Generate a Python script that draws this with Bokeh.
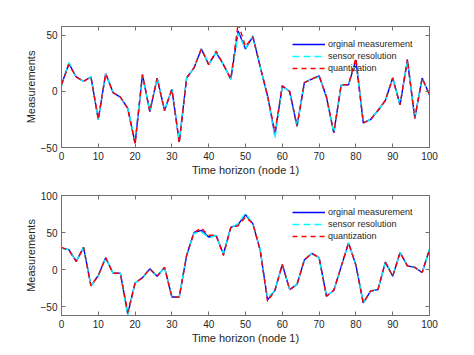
from bokeh.plotting import figure
from bokeh.models import LinearAxis, FixedTicker, CustomJSTickFormatter, Range1d
from bokeh.layouts import column
from bokeh.embed import file_html
from bokeh.resources import INLINE

t = list(range(0, 101, 2))

top_orig = [6, 25, 13, 9, 13, -25, 16, -1, -5, -15,
            -46, 15, -18, 12, -17, 2, -45, 12, 21, 38,
            24, 35, 24, 11, 54, 38, 49, 22, -4, -39,
            5, 0, -31, 8, 11, 14, -5, -37, 6, 6,
            28, -28, -25, -17, -8, 12, -12, 28, -24, 12,
            -3]
top_sensor = [5, 26, 13, 9, 13, -25, 16, -1, -5, -15,
              -44, 15, -18, 12, -17, 2, -44, 12, 21, 38,
              24, 35, 24, 11, 52, 38, 50, 22, -4, -42,
              5, 0, -32, 8, 11, 13, -5, -37, 6, 6,
              28, -28, -25, -17, -8, 12, -12, 28, -24, 12,
              -3]
top_quant = [6, 24, 13, 9, 13, -25, 16, -1, -5, -15,
             -47, 15, -18, 12, -17, 2, -46, 12, 21, 38,
             24, 36, 24, 11, 61, 40, 49, 22, -4, -36,
             5, 0, -31, 8, 11, 14, -5, -37, 6, 6,
             30, -28, -25, -17, -8, 12, -12, 29, -24, 12,
             -3]

bot_orig = [29, 27, 11, 30, -22, -8, 16, -5, -5, -60,
            -18, -11, 1, -9, 3, -37, -37, 19, 50, 53,
            44, 46, 21, 57, 61, 74, 62, 26, -41, -28,
            7, -27, -20, 13, 22, 16, -36, -28, 4, 36,
            6, -45, -29, -27, 10, -9, 23, 5, 3, -4,
            27]
bot_sensor = [29, 27, 11, 30, -22, -8, 16, -5, -5, -62,
              -18, -11, 1, -9, 3, -37, -37, 19, 49, 51,
              43, 46, 21, 56, 62, 76, 62, 26, -38, -28,
              7, -27, -20, 13, 22, 16, -36, -28, 4, 36,
              6, -45, -29, -27, 10, -9, 23, 5, 3, -4,
              27]
bot_quant = [30, 26, 11, 30, -22, -8, 16, -5, -5, -58,
             -18, -11, 1, -9, 3, -37, -37, 19, 50, 56,
             46, 47, 19, 57, 59, 71, 62, 26, -43, -28,
             7, -27, -20, 13, 22, 16, -36, -28, 4, 36,
             6, -45, -29, -27, 10, -9, 23, 5, 3, -4,
             27]

x_ticks = [0, 10, 20, 30, 40, 50, 60, 70, 80, 90, 100]
top_yticks = [-50, 0, 50]
bot_yticks = [-50, 0, 50, 100]
labels = ["orginal measurement", "sensor resolution", "quantization"]

FONT = "Liberation Sans"
AX = "#707070"
TXT = "#262626"


def style_axis(ax, ticks, show_labels=True):
    ax.ticker = FixedTicker(ticks=ticks)
    ax.axis_line_color = AX
    ax.major_tick_line_color = AX
    ax.major_tick_in = 4
    ax.major_tick_out = 0
    ax.minor_tick_line_color = None
    ax.major_label_text_font = FONT
    ax.major_label_text_font_size = "10px"
    ax.major_label_text_color = TXT
    ax.major_label_standoff = 4
    ax.axis_label_text_font = FONT
    ax.axis_label_text_font_size = "11px"
    ax.axis_label_text_font_style = "normal"
    ax.axis_label_text_color = TXT
    ax.axis_label_standoff = 1
    if not show_labels:
        ax.formatter = CustomJSTickFormatter(code="return ''")


def make(ys, yr, yticks, height, btop, bbottom, legend_loc):
    p = figure(width=466, height=height, output_backend="svg", toolbar_location=None,
               x_range=Range1d(0, 100), y_range=Range1d(*yr),
               min_border_left=61, min_border_right=37,
               min_border_top=btop, min_border_bottom=bbottom)
    p.xgrid.visible = False
    p.ygrid.visible = False
    p.outline_line_color = AX
    p.background_fill_color = "white"
    p.border_fill_color = "white"
    p.line(t, ys[0], line_color="#0000ff", line_width=1.4, legend_label=labels[0])
    p.line(t, ys[1], line_color="#00ffff", line_width=1.4, line_dash="7 4", legend_label=labels[1])
    p.line(t, ys[2], line_color="#ff0000", line_width=1.4, line_dash="5 4", legend_label=labels[2])
    style_axis(p.xaxis[0], x_ticks)
    style_axis(p.yaxis[0], yticks)
    p.xaxis[0].axis_label = "Time horizon (node 1)"
    p.yaxis[0].axis_label = "Measurements"
    ta = LinearAxis()
    style_axis(ta, x_ticks, show_labels=False)
    p.add_layout(ta, "above")
    ra = LinearAxis()
    style_axis(ra, yticks, show_labels=False)
    p.add_layout(ra, "right")
    lg = p.legend[0]
    lg.location = legend_loc
    lg.margin = 0
    lg.padding = 2
    lg.spacing = 0
    lg.glyph_width = 33
    lg.glyph_height = 12
    lg.label_height = 12
    lg.label_standoff = 3
    lg.label_text_font = FONT
    lg.label_text_font_size = "9px"
    lg.label_text_color = TXT
    lg.background_fill_alpha = 0
    lg.border_line_color = None
    return p


p1 = make([top_orig, top_sensor, top_quant], (-50, 58), top_yticks, 178, 26, 31, (231, 73))
p2 = make([bot_orig, bot_sensor, bot_quant], (-62, 100), bot_yticks, 169, 17, 32, (231, 73))

p = column(p1, p2, spacing=0)
open("out.html", "w").write(file_html(p, INLINE))
